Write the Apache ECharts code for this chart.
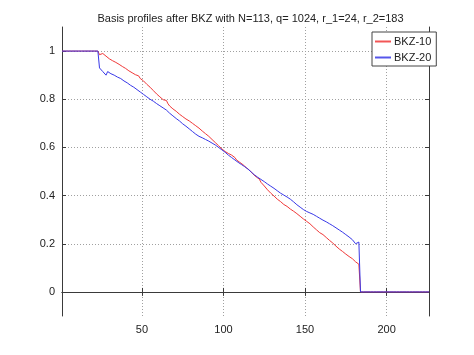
<!DOCTYPE html>
<html>
<head>
<meta charset="utf-8">
<script src="https://cdn.jsdelivr.net/npm/echarts@6/dist/echarts.min.js"></script>
<style>html,body{margin:0;padding:0;background:#fff}#c{width:474px;height:355px}</style>
</head>
<body>
<div id="c"></div>
<script>
var titleText = 'Basis profiles after BKZ with N=113, q= 1024, r_1=24, r_2=183';
var seriesNames = ['BKZ-10', 'BKZ-20'];
var xTicks = [50, 100, 150, 200];
var yTicks = [0, 0.2, 0.4, 0.6, 0.8, 1];
var headStart = 1, headEnd = 23;     // plateau at 1
var bodyStart = 24;                  // first reduced index
var tailStart = 184, tailEnd = 226;  // plateau at 0

// BKZ-10, indices 24..183
var bkz10 = [
  0.985,0.978,0.99,0.985,0.979,0.975,
  0.968,0.966,0.96,0.958,0.953,0.95,0.945,0.943,0.936,0.932,
  0.928,0.925,0.918,0.92,0.91,0.905,0.902,0.895,0.897,0.886,
  0.882,0.876,0.872,0.862,0.857,0.85,0.846,0.836,0.83,0.822,
  0.815,0.81,0.805,0.798,0.792,0.795,0.781,0.772,0.77,0.76,
  0.755,0.75,0.745,0.738,0.734,0.728,0.725,0.718,0.714,0.71,
  0.705,0.7,0.7,0.69,0.688,0.68,0.676,0.668,0.664,0.657,
  0.65,0.646,0.638,0.633,0.626,0.62,0.612,0.607,0.6,0.594,
  0.59,0.583,0.585,0.575,0.577,0.568,0.56,0.558,0.548,0.545,
  0.538,0.533,0.528,0.52,0.516,0.512,0.505,0.498,0.49,0.485,
  0.478,0.47,0.468,0.455,0.45,0.44,0.434,0.424,0.42,0.41,
  0.403,0.398,0.392,0.385,0.38,0.375,0.37,0.363,0.358,0.355,
  0.35,0.344,0.346,0.335,0.332,0.325,0.32,0.314,0.31,0.303,
  0.298,0.293,0.288,0.283,0.276,0.27,0.264,0.258,0.252,0.246,
  0.24,0.238,0.23,0.226,0.218,0.214,0.206,0.203,0.195,0.19,
  0.182,0.178,0.174,0.168,0.163,0.157,0.153,0.147,0.142,0.138,
  0.132,0.125,0.128,0.115
];
// BKZ-20, indices 24..183
var bkz20 = [
  0.93,0.922,0.915,0.91,0.9,0.915,
  0.91,0.906,0.906,0.9,0.897,0.892,0.888,0.886,0.878,0.876,
  0.872,0.868,0.864,0.858,0.855,0.85,0.845,0.84,0.836,0.83,
  0.825,0.82,0.818,0.81,0.808,0.8,0.799,0.792,0.789,0.782,
  0.778,0.773,0.77,0.764,0.76,0.755,0.748,0.742,0.737,0.731,
  0.725,0.72,0.717,0.71,0.706,0.698,0.696,0.688,0.685,0.677,
  0.672,0.666,0.661,0.655,0.65,0.646,0.642,0.64,0.636,0.633,
  0.63,0.626,0.622,0.618,0.615,0.61,0.604,0.6,0.594,0.59,
  0.585,0.58,0.574,0.568,0.563,0.558,0.553,0.548,0.543,0.538,
  0.534,0.529,0.527,0.52,0.517,0.51,0.506,0.498,0.494,0.486,
  0.48,0.476,0.471,0.467,0.462,0.458,0.453,0.448,0.443,0.439,
  0.435,0.43,0.428,0.42,0.418,0.41,0.408,0.402,0.399,0.394,
  0.39,0.385,0.38,0.374,0.368,0.362,0.357,0.352,0.346,0.342,
  0.337,0.334,0.334,0.328,0.327,0.322,0.32,0.314,0.312,0.306,
  0.302,0.298,0.294,0.291,0.287,0.283,0.279,0.275,0.27,0.266,
  0.262,0.257,0.255,0.248,0.245,0.238,0.236,0.228,0.224,0.217,
  0.212,0.2,0.197,0.207
];

function buildSeries(body) {
  var out = [];
  for (var i = headStart; i <= headEnd; i++) out.push([i, 1]);
  for (var j = 0; j < body.length; j++) out.push([bodyStart + j, body[j]]);
  for (var k = tailStart; k <= tailEnd; k++) out.push([k, 0]);
  return out;
}

var font = 'Liberation Sans, Arial, Helvetica, sans-serif';
var axisCol = '#3a3a3a';
var redCol = '#f03838', blueCol = '#3838e8';
var chart = echarts.init(document.getElementById('c'), null, {renderer: 'canvas'});
chart.setOption({
  animation: false,
  backgroundColor: '#fff',
  title: {
    text: titleText, left: 245.5, textAlign: 'center', top: 8,
    textStyle: {fontFamily: font, fontSize: 11, fontWeight: 'normal', color: '#222'}
  },
  legend: {
    orient: 'vertical', left: 372, top: 32,
    padding: [4, 5, 3, 3], itemGap: 5, itemWidth: 16, itemHeight: 2,
    backgroundColor: '#fff', borderColor: '#444', borderWidth: 1,
    textStyle: {fontFamily: font, fontSize: 11, color: '#222', padding: [0, 0, 0, -2]},
    data: [
      {name: seriesNames[0], icon: 'rect', itemStyle: {color: redCol, borderWidth: 0, opacity: 0.85}},
      {name: seriesNames[1], icon: 'rect', itemStyle: {color: blueCol, borderWidth: 0, opacity: 0.85}}
    ]
  },
  grid: {left: 62, right: 45, top: 27, bottom: 39, containLabel: false},
  xAxis: [{
    type: 'value', min: 1, max: 226, position: 'bottom',
    axisLine: {lineStyle: {color: axisCol, width: 1}},
    axisTick: {inside: true, length: 4, customValues: xTicks, lineStyle: {color: axisCol}},
    axisLabel: {customValues: xTicks, fontFamily: font, fontSize: 11, color: '#222', margin: 8},
    splitLine: {show: true, lineStyle: {type: [1, 2], color: '#a0a0a0'}}
  }, {
    type: 'value', min: 1, max: 226, position: 'top',
    axisLine: {lineStyle: {color: axisCol, width: 1}},
    axisTick: {inside: true, length: 4, customValues: xTicks, lineStyle: {color: axisCol}},
    axisLabel: {show: false},
    splitLine: {show: false}
  }],
  yAxis: [{
    type: 'value', min: -0.1, max: 1.1, position: 'left',
    axisLine: {show: true, lineStyle: {color: axisCol, width: 1}},
    axisTick: {show: true, inside: true, length: 4, customValues: yTicks, lineStyle: {color: axisCol}},
    axisLabel: {customValues: yTicks, fontFamily: font, fontSize: 11, color: '#222', margin: 7,
      formatter: function (v) { return String(+v.toFixed(1)); }},
    splitLine: {show: true, lineStyle: {type: [1, 2], color: '#a0a0a0'}}
  }, {
    type: 'value', min: -0.1, max: 1.1, position: 'right',
    axisLine: {show: true, lineStyle: {color: axisCol, width: 1}},
    axisTick: {show: true, inside: true, length: 4, customValues: yTicks, lineStyle: {color: axisCol}},
    axisLabel: {show: false},
    splitLine: {show: false}
  }],
  series: [{
    name: seriesNames[0], type: 'line', xAxisIndex: 0, yAxisIndex: 0,
    data: buildSeries(bkz10), showSymbol: false, symbol: 'none',
    color: redCol, lineStyle: {color: redCol, width: 1}
  }, {
    name: seriesNames[1], type: 'line', xAxisIndex: 0, yAxisIndex: 0,
    data: buildSeries(bkz20), showSymbol: false, symbol: 'none',
    color: blueCol, lineStyle: {color: blueCol, width: 1}
  }]
});
</script>
</body>
</html>
